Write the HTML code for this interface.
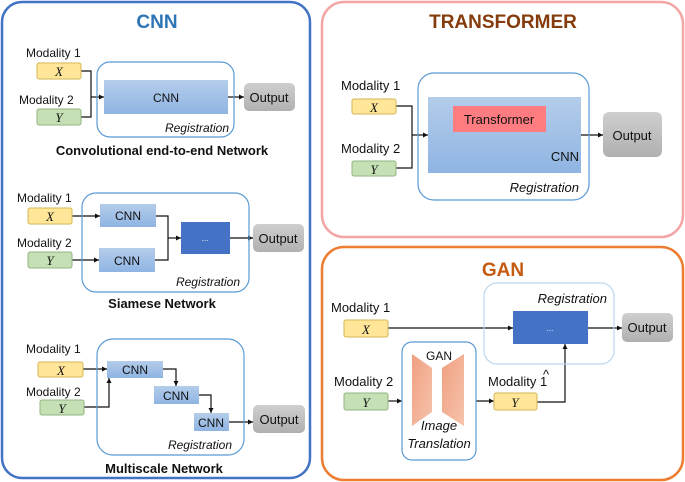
<!DOCTYPE html>
<html><head><meta charset="utf-8"><style>
html,body{margin:0;padding:0;background:#fff}
svg{display:block;font-family:"Liberation Sans",sans-serif}
.m{font-size:12px;fill:#111}
.it{font-style:italic;font-size:12px;fill:#111}
.v{font-family:"Liberation Serif",serif;font-style:italic;font-size:13px;fill:#111}
.b{font-weight:bold;font-size:13px;fill:#111}
</style></head><body>
<svg width="685" height="482" viewBox="0 0 685 482">
<defs>
<linearGradient id="bl" x1="0" y1="0" x2="0" y2="1"><stop offset="0" stop-color="#b4cdea"/><stop offset="1" stop-color="#8fb4e3"/></linearGradient>
<linearGradient id="gr" x1="0" y1="0" x2="0" y2="1"><stop offset="0" stop-color="#cfcfcf"/><stop offset="1" stop-color="#b0b0b0"/></linearGradient>
<linearGradient id="or" x1="0" y1="0" x2="1" y2="1"><stop offset="0" stop-color="#f0a080"/><stop offset="1" stop-color="#f6c3ac"/></linearGradient>
<marker id="a" markerWidth="6" markerHeight="6" refX="5" refY="3" orient="auto" markerUnits="userSpaceOnUse"><path d="M0,0.5 L5,3 L0,5.5z" fill="#111"/></marker>
</defs>
<g fill="none" stroke-width="2.5">
<rect x="2" y="2" width="308" height="476" rx="20" stroke="#4472c4"/>
<rect x="322" y="2" width="361" height="235" rx="22" stroke="#f4a6a6"/>
<rect x="322" y="247" width="361" height="233" rx="22" stroke="#ed7d31"/>
</g>
<text x="157" y="28" text-anchor="middle" font-weight="bold" font-size="19" fill="#2e75b6">CNN</text>
<text x="503" y="28" text-anchor="middle" font-weight="bold" font-size="19" fill="#843c0c">TRANSFORMER</text>
<text x="503" y="276" text-anchor="middle" font-weight="bold" font-size="19" fill="#c55a11">GAN</text>

<g stroke="#111" stroke-width="1.2" fill="none">
<polyline points="81,71 91,71 91,117 81,117"/><line x1="91" y1="97" x2="104" y2="97" marker-end="url(#a)"/>
<line x1="228" y1="97" x2="244" y2="97" marker-end="url(#a)"/>
<line x1="72" y1="216" x2="100" y2="216" marker-end="url(#a)"/>
<line x1="72" y1="260" x2="99" y2="260" marker-end="url(#a)"/>
<polyline points="156,216 168,216 168,260 155,260"/><line x1="168" y1="238" x2="181" y2="238" marker-end="url(#a)"/>
<line x1="230" y1="238" x2="253" y2="238" marker-end="url(#a)"/>
<line x1="83" y1="369" x2="107" y2="369" marker-end="url(#a)"/>
<polyline points="84,407 109,407 109,378" marker-end="url(#a)"/>
<polyline points="163,369 176,369 176,386" marker-end="url(#a)"/>
<polyline points="199,395 211,395 211,413" marker-end="url(#a)"/>
<line x1="229" y1="422" x2="253" y2="422" marker-end="url(#a)"/>
<polyline points="396,106 412,106 412,168 396,168"/><line x1="412" y1="135" x2="428" y2="135" marker-end="url(#a)"/>
<line x1="581" y1="135" x2="603" y2="135" marker-end="url(#a)"/>
<line x1="388" y1="328" x2="513" y2="328" marker-end="url(#a)"/>
<line x1="588" y1="328" x2="622" y2="328" marker-end="url(#a)"/>
<line x1="388" y1="401" x2="402" y2="401" marker-end="url(#a)"/>
<line x1="476" y1="401" x2="494" y2="401" marker-end="url(#a)"/>
<polyline points="537,402 565,402 565,344" marker-end="url(#a)"/>
</g>

<g fill="none" stroke="#5b9bd5" stroke-width="1.2">
<rect x="97" y="62" width="137" height="75" rx="13"/>
<rect x="82" y="193" width="167" height="99" rx="14"/>
<rect x="97" y="339" width="147" height="116" rx="16"/>
<rect x="418" y="73" width="171" height="127" rx="16"/>
<rect x="402" y="342" width="74" height="118" rx="10"/>
<rect x="484" y="283" width="130" height="81" rx="13" stroke="#bdd7ee"/>
</g>

<g stroke-width="1">
<rect x="37" y="63" width="44" height="16" rx="2" fill="#ffe699" stroke="#d6b656"/>
<rect x="37" y="109" width="44" height="16" rx="2" fill="#c5e0b4" stroke="#93b683"/>
<rect x="28" y="208" width="44" height="16" rx="2" fill="#ffe699" stroke="#d6b656"/>
<rect x="28" y="252" width="44" height="16" rx="2" fill="#c5e0b4" stroke="#93b683"/>
<rect x="38" y="362" width="45" height="15" rx="2" fill="#ffe699" stroke="#d6b656"/>
<rect x="40" y="400" width="44" height="15" rx="2" fill="#c5e0b4" stroke="#93b683"/>
<rect x="352" y="99" width="44" height="15" rx="2" fill="#ffe699" stroke="#d6b656"/>
<rect x="352" y="161" width="44" height="15" rx="2" fill="#c5e0b4" stroke="#93b683"/>
<rect x="344" y="320" width="44" height="17" rx="2" fill="#ffe699" stroke="#d6b656"/>
<rect x="344" y="393" width="44" height="17" rx="2" fill="#c5e0b4" stroke="#93b683"/>
<rect x="494" y="393" width="43" height="17" rx="2" fill="#ffe699" stroke="#d6b656"/>
</g>
<g class="v" text-anchor="middle">
<text x="59" y="76">X</text><text x="59" y="122">Y</text>
<text x="50" y="221">X</text><text x="50" y="265">Y</text>
<text x="61" y="375">X</text><text x="62" y="413">Y</text>
<text x="374" y="112">X</text><text x="374" y="174">Y</text>
<text x="366" y="334">X</text><text x="366" y="407">Y</text><text x="515" y="407">Y</text>
</g>

<rect x="104" y="80" width="124" height="34" fill="url(#bl)"/>
<rect x="100" y="204" width="56" height="23" fill="url(#bl)"/>
<rect x="99" y="248" width="56" height="24" fill="url(#bl)"/>
<rect x="107" y="361" width="56" height="17" fill="url(#bl)"/>
<rect x="154" y="386" width="45" height="18" fill="url(#bl)"/>
<rect x="194" y="413" width="35" height="18" fill="url(#bl)"/>
<rect x="428" y="97" width="153" height="76" fill="url(#bl)"/>
<rect x="453" y="106" width="93" height="26" fill="#ff7c80"/>
<rect x="181" y="222" width="49" height="32" fill="#4472c4"/>
<rect x="513" y="311" width="75" height="33" fill="#4472c4"/>
<text x="205" y="241" font-size="8" fill="#fff" text-anchor="middle">...</text>
<text x="550" y="331" font-size="8" fill="#fff" text-anchor="middle">...</text>

<g fill="url(#gr)">
<rect x="244" y="83" width="51" height="28" rx="5"/>
<rect x="253" y="224" width="51" height="28" rx="5"/>
<rect x="253" y="405" width="52" height="28" rx="5"/>
<rect x="603" y="112" width="59" height="45" rx="6"/>
<rect x="622" y="313" width="51" height="29" rx="5"/>
</g>
<g class="m" text-anchor="middle" font-size="13">
<text x="269" y="102" font-size="13">Output</text>
<text x="278" y="243" font-size="13">Output</text>
<text x="279" y="424" font-size="13">Output</text>
<text x="632" y="140" font-size="13">Output</text>
<text x="647" y="332" font-size="13">Output</text>
<text x="166" y="102" font-size="12">CNN</text>
<text x="128" y="220">CNN</text>
<text x="127" y="265">CNN</text>
<text x="135" y="374">CNN</text>
<text x="176" y="400">CNN</text>
<text x="211" y="427">CNN</text>
<text x="499" y="124" font-size="13">Transformer</text>
<text x="565" y="161" font-size="13">CNN</text>
<text x="439" y="360" font-size="12">GAN</text>
</g>

<g class="m">
<text x="26" y="57">Modality 1</text><text x="19" y="104">Modality 2</text>
<text x="17" y="202">Modality 1</text><text x="17" y="247">Modality 2</text>
<text x="26" y="353">Modality 1</text><text x="26" y="396">Modality 2</text>
<text x="341" y="90" font-size="13">Modality 1</text><text x="341" y="153" font-size="13">Modality 2</text>
<text x="331" y="312" font-size="13">Modality 1</text><text x="334" y="386" font-size="13">Modality 2</text>
<text x="488" y="386" font-size="13">Modality 1</text>
<text x="543" y="379" font-size="13">^</text>
</g>
<g class="it" text-anchor="end">
<text x="229" y="132">Registration</text>
<text x="240" y="286">Registration</text>
<text x="232" y="449">Registration</text>
<text x="579" y="192" font-size="13">Registration</text>
<text x="607" y="303" font-size="13">Registration</text>
</g>
<g class="it" text-anchor="middle" font-size="13">
<text x="439" y="430" font-size="13">Image</text>
<text x="439" y="448" font-size="13">Translation</text>
</g>
<g class="b" text-anchor="middle">
<text x="162" y="155">Convolutional end-to-end Network</text>
<text x="162" y="308">Siamese Network</text>
<text x="164" y="473">Multiscale Network</text>
</g>
<polygon points="412,354 432,368 432,412 412,426" fill="url(#or)"/>
<polygon points="442,368 464,354 464,426 442,412" fill="url(#or)"/>
</svg>
</body></html>
